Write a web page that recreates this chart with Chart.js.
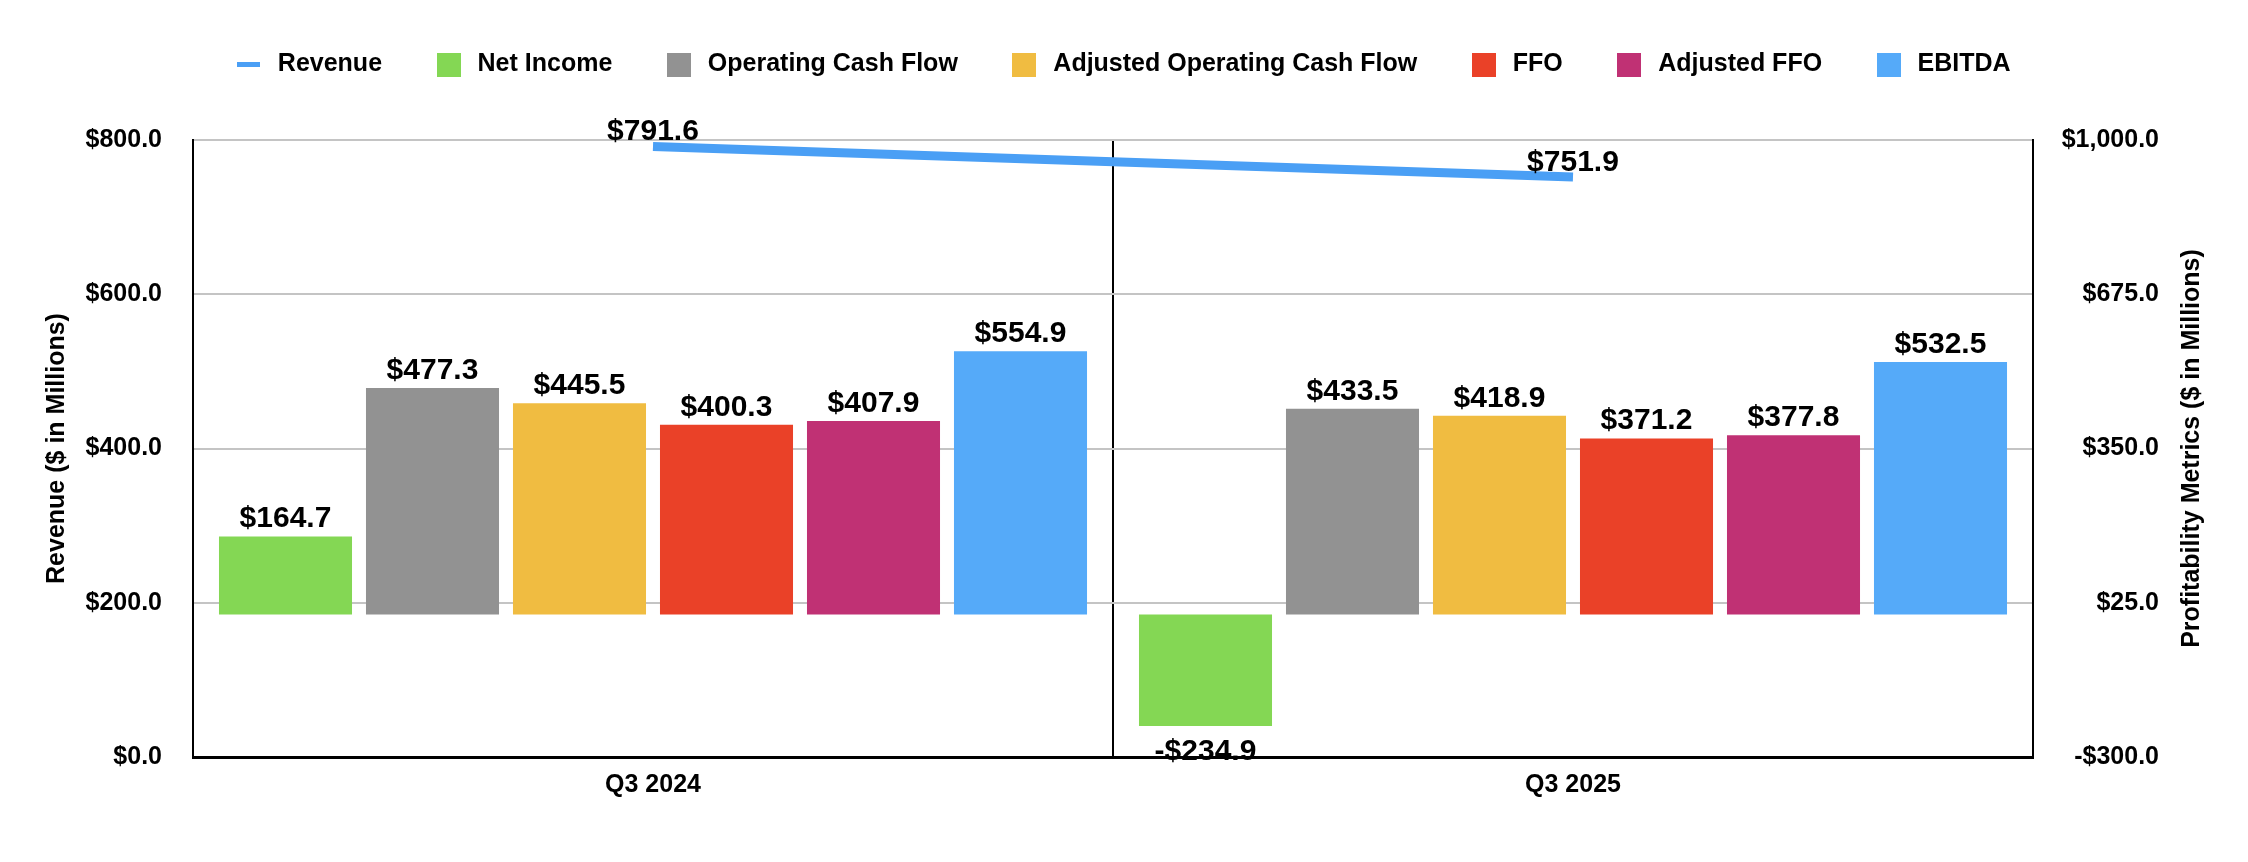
<!DOCTYPE html>
<html>
<head>
<meta charset="utf-8">
<script src="https://cdn.jsdelivr.net/npm/chart.js@4.4.1/dist/chart.umd.min.js"></script>
<style>
  html, body { margin: 0; padding: 0; background: #fff; }
  #wrap { width: 2248px; height: 862px; }
</style>
</head>
<body>
<div id="wrap"><canvas id="myChart" width="2248" height="862"></canvas></div>
<script>
// values ($ in millions)
const categories = ['Q3 2024', 'Q3 2025'];
const revenue = [791.6, 751.9];
const netIncome = [164.7, -234.9];
const operatingCashFlow = [477.3, 433.5];
const adjustedOperatingCashFlow = [445.5, 418.9];
const ffo = [400.3, 371.2];
const adjustedFfo = [407.9, 377.8];
const ebitda = [554.9, 532.5];

// axis ranges
const revenueAxis = { min: 0, max: 800, step: 200 };
const profitAxis = { min: -300, max: 1000, step: 325 };

const FONT = '"Liberation Sans", Arial, Helvetica, sans-serif';

function money(v) {
    const s = Math.abs(v).toLocaleString('en-US', { minimumFractionDigits: 1, maximumFractionDigits: 1 });
    return (v < 0 ? '-$' : '$') + s;
}

// small canvases used as legend markers
function swatch(color, w, h) {
    const c = document.createElement('canvas');
    c.width = w;
    c.height = h;
    const g = c.getContext('2d');
    g.fillStyle = color;
    g.fillRect(0, 0, w, h);
    return c;
}

// push the plot down below the legend, and keep the legend centred on the page
const legendSpace = {
    id: 'legendSpace',
    beforeUpdate(chart) {
        const lg = chart.legend;
        if (lg && !lg._patched) {
            const fit = lg.fit;
            lg.fit = function () {
                fit.call(this);
                this.height += 55;
            };
            lg._patched = true;
        }
    },
    afterLayout(chart) {
        const lg = chart.legend;
        lg.left -= 6;
        lg.right += 52;
        lg.width = lg.right - lg.left;
        lg.top += 2;
        lg.bottom += 2;
    }
};

// value labels above / below each mark
const valueLabels = {
    id: 'valueLabels',
    afterDatasetsDraw(chart) {
        const ctx = chart.ctx;
        ctx.save();
        ctx.font = 'bold 30px ' + FONT;
        ctx.fillStyle = '#000';
        ctx.textAlign = 'center';
        ctx.textBaseline = 'alphabetic';
        chart.data.datasets.forEach((ds, i) => {
            const meta = chart.getDatasetMeta(i);
            meta.data.forEach((el, j) => {
                const v = ds.data[j];
                let y;
                if (ds.type === 'line') y = el.y - 6;
                else if (v >= 0) y = el.y - 9;
                else y = el.y + 34;
                ctx.fillText(money(v), el.x, y);
            });
        });
        ctx.restore();
    }
};

// right axis title reads bottom-to-top like the left one
const rightTitle = {
    id: 'rightTitle',
    afterDraw(chart) {
        const area = chart.chartArea;
        const ctx = chart.ctx;
        ctx.save();
        ctx.translate(chart.width - 56, (area.top + area.bottom) / 2);
        ctx.rotate(-Math.PI / 2);
        ctx.font = 'bold 25px ' + FONT;
        ctx.fillStyle = '#000';
        ctx.textAlign = 'center';
        ctx.textBaseline = 'middle';
        ctx.fillText('Profitability Metrics ($ in Millions)', 0, 0);
        ctx.restore();
    }
};

const markers = [
    swatch('#4a9ff5', 23, 5),
    swatch('#84d754', 24, 24),
    swatch('#929292', 24, 24),
    swatch('#f0bc41', 24, 24),
    swatch('#ea4128', 24, 24),
    swatch('#c03174', 24, 24),
    swatch('#55aaf9', 24, 24)
];

const barCommon = {
    type: 'bar',
    yAxisID: 'y1',
    order: 1,
    categoryPercentage: 0.9587,
    barPercentage: 0.905,
    borderWidth: 0
};

const ctx = document.getElementById('myChart').getContext('2d');
const myChart = new Chart(ctx, {
    type: 'bar',
    data: {
        labels: categories,
        datasets: [
            {
                type: 'line',
                label: 'Revenue',
                data: revenue,
                yAxisID: 'y',
                order: 0,
                borderColor: '#4a9ff5',
                backgroundColor: '#4a9ff5',
                borderWidth: 9,
                pointRadius: 0,
                tension: 0
            },
            { ...barCommon, label: 'Net Income', data: netIncome, backgroundColor: '#84d754' },
            { ...barCommon, label: 'Operating Cash Flow', data: operatingCashFlow, backgroundColor: '#929292' },
            { ...barCommon, label: 'Adjusted Operating Cash Flow', data: adjustedOperatingCashFlow, backgroundColor: '#f0bc41' },
            { ...barCommon, label: 'FFO', data: ffo, backgroundColor: '#ea4128' },
            { ...barCommon, label: 'Adjusted FFO', data: adjustedFfo, backgroundColor: '#c03174' },
            { ...barCommon, label: 'EBITDA', data: ebitda, backgroundColor: '#55aaf9' }
        ]
    },
    options: {
        responsive: false,
        animation: false,
        devicePixelRatio: 1,
        layout: { padding: { top: 0, left: 38, right: 89, bottom: 62 } },
        plugins: {
            tooltip: { enabled: false },
            legend: {
                position: 'top',
                labels: {
                    color: '#000',
                    font: { family: FONT, size: 25, weight: 'bold' },
                    padding: 50,
                    usePointStyle: true,
                    pointStyleWidth: 33,
                    generateLabels(chart) {
                        const items = Chart.defaults.plugins.legend.labels.generateLabels(chart);
                        items.forEach(it => { it.pointStyle = markers[it.datasetIndex]; });
                        return items;
                    }
                }
            }
        },
        scales: {
            x: {
                type: 'category',
                offset: true,
                grid: { display: true, color: '#000', lineWidth: 2, drawTicks: false },
                border: { display: true, color: '#000', width: 3 },
                ticks: { color: '#000', padding: 13, font: { family: FONT, size: 25, weight: 'bold' } },
                afterFit(scale) { scale.height = 43; }
            },
            y: {
                position: 'left',
                min: revenueAxis.min,
                max: revenueAxis.max,
                grid: { color: '#c4c4c4', lineWidth: 2, drawTicks: false },
                border: { display: true, color: '#000', width: 2 },
                ticks: {
                    stepSize: revenueAxis.step,
                    color: '#000',
                    padding: 31,
                    font: { family: FONT, size: 25, weight: 'bold' },
                    callback: v => money(v)
                },
                title: {
                    display: true,
                    text: 'Revenue ($ in Millions)',
                    color: '#000',
                    font: { family: FONT, size: 25, weight: 'bold' },
                    padding: { top: 4, bottom: 13 }
                },
                afterFit(scale) { scale.width = 155; }
            },
            y1: {
                position: 'right',
                min: profitAxis.min,
                max: profitAxis.max,
                grid: { display: false, drawTicks: false },
                border: { display: true, color: '#000', width: 2 },
                ticks: {
                    stepSize: profitAxis.step,
                    color: '#000',
                    padding: 29,
                    crossAlign: 'far',
                    font: { family: FONT, size: 25, weight: 'bold' },
                    callback: v => money(v)
                },
                afterFit(scale) { scale.width = 126; }
            }
        }
    },
    plugins: [legendSpace, valueLabels, rightTitle]
});
</script>
</body>
</html>
